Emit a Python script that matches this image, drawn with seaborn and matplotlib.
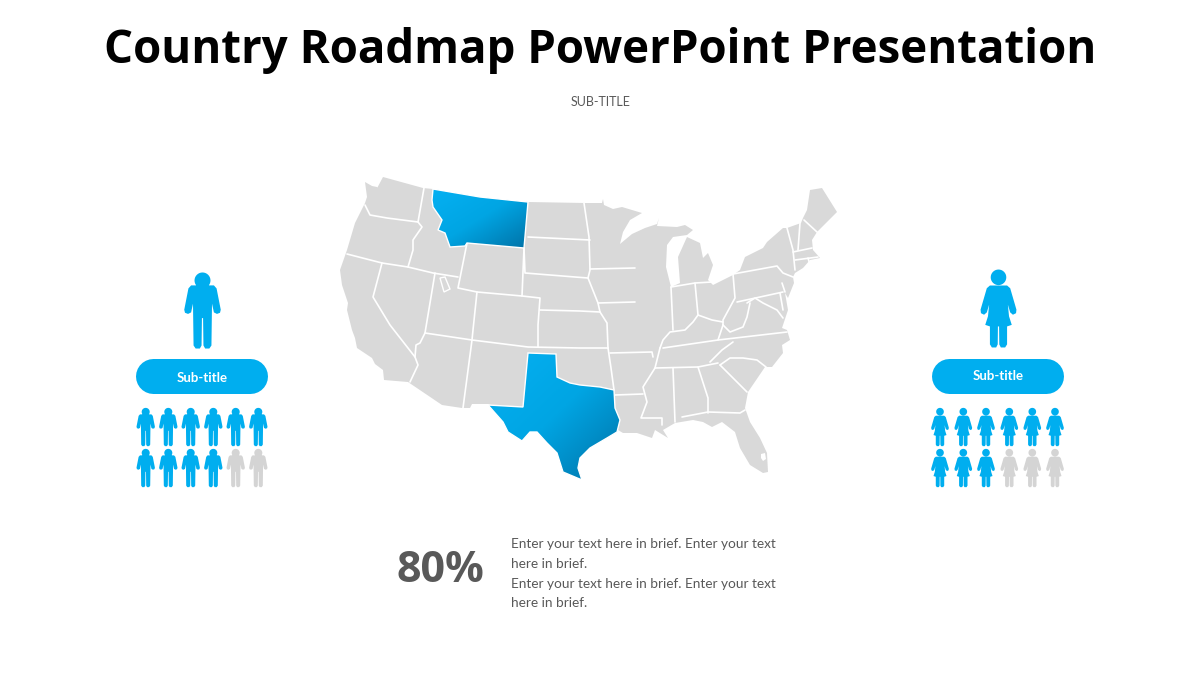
"""Country roadmap slide: US map with two pictogram panels."""

import matplotlib.pyplot as plt
import numpy as np
import pandas as pd
import seaborn as sns
from matplotlib.colors import LinearSegmentedColormap
from matplotlib.patches import Polygon
from matplotlib.path import Path

sns.set_theme(style="white")
plt.rcParams["font.family"] = ["Lato", "DejaVu Sans"]

BLUE = "#00AEEF"
GREY_ICON = "#D4D4D4"
MAP_GREY = "#D9D9D9"
TEXT_GREY = "#595959"

TITLE = "Country Roadmap PowerPoint Presentation"
SUBTITLE = "SUB-TITLE"
PILL_LABEL = "Sub-title"
BIG_NUMBER = "80%"
BODY_LINES = [
    "Enter your text here in brief. Enter your text",
    "here in brief.",
    "Enter your text here in brief. Enter your text",
    "here in brief.",
]

# pictogram counts
MEN_FILLED = [6, 4]
WOMEN_FILLED = [6, 3]

# map, in slide pixels
US_OUTLINE = [
    (365, 182), (372, 186), (377, 187), (380, 193), (376, 197), (374, 194), (383, 177),
    (423, 188), (433, 189), (480, 197), (528, 202), (585, 203), (602, 203), (603, 199),
    (604, 205), (613, 209), (622, 207), (642, 213), (630, 220), (623, 232), (620, 244),
    (632, 234), (645, 228), (657, 224), (659, 218), (657, 226), (677, 227), (685, 225),
    (693, 230), (687, 235), (673, 237), (667, 245), (666, 267), (671, 287), (680, 283),
    (678, 257), (687, 237), (700, 243), (703, 258), (708, 253), (713, 265), (708, 280),
    (713, 285), (733, 275), (740, 270), (745, 257), (763, 248), (767, 242), (783, 228),
    (787, 228), (801, 223), (803, 218), (807, 210), (810, 190), (822, 188), (837, 212),
    (817, 232), (812, 240), (813, 250), (820, 258), (810, 260), (803, 268), (795, 273),
    (793, 277), (794, 283), (788, 298), (785, 293), (788, 310), (782, 328), (787, 330),
    (790, 340), (782, 345), (783, 353), (772, 367), (765, 367), (748, 392), (745, 408),
    (750, 422), (760, 438), (767, 453), (768, 472), (763, 473), (750, 465), (740, 448),
    (735, 432), (722, 422), (712, 427), (703, 422), (693, 420), (675, 423), (663, 430),
    (668, 438), (655, 430), (652, 438), (637, 433), (623, 433), (618, 430), (600, 420),
    (530, 420), (488, 404), (472, 404), (470, 408), (462, 408), (442, 405), (408, 382),
    (384, 380), (383, 370), (375, 364), (372, 358), (363, 352), (357, 348), (355, 338),
    (352, 330), (347, 310), (348, 303), (342, 285), (340, 270), (347, 250), (355, 223),
    (365, 203), (367, 197),
]
MONTANA = [
    (433, 189), (480, 197), (528, 202), (524, 248), (467, 243), (465, 246), (450, 247),
    (445, 233), (438, 230), (442, 220), (433, 207), (432, 200),
]
TEXAS = [
    (528, 353), (556, 354), (557, 377), (570, 383), (580, 385), (590, 386), (600, 387),
    (614, 390), (615, 408), (620, 420), (617, 432), (607, 438), (590, 448), (580, 458),
    (578, 468), (582, 480), (563, 472), (557, 453), (547, 443), (537, 432), (530, 432),
    (522, 441), (508, 432), (503, 422), (488, 405), (523, 407),
]
UTAH_MARK = [(440, 278), (445, 277), (450, 289), (444, 292)]
LAKE_OKEECHOBEE = [(761, 454), (765, 453), (766, 459), (763, 461), (761, 458)]

# state borders that show as white lines
STATE_LINES = [
    [(365, 205), (370, 215), (387, 218), (418, 222)],
    [(424, 188), (418, 222), (422, 227), (413, 240), (413, 250), (408, 267)],
    [(347, 254), (382, 263), (408, 267), (433, 273), (458, 277)],
    [(467, 243), (458, 288), (477, 292), (522, 296), (524, 248)],
    [(382, 263), (373, 297), (390, 325), (415, 357), (418, 365), (410, 382)],
    [(435, 273), (425, 333), (420, 343), (416, 345), (415, 357)],
    [(425, 333), (472, 340), (528, 347), (580, 348), (608, 348)],
    [(477, 292), (473, 330), (472, 340), (463, 408)],
    [(522, 296), (540, 298), (538, 325), (538, 347)],
    [(540, 310), (580, 311), (600, 312), (607, 323), (608, 348)],
    [(524, 248), (525, 273), (575, 277), (588, 278), (598, 303), (600, 312)],
    [(528, 237), (590, 240)],
    [(584, 203), (589, 237), (590, 270), (588, 278)],
    [(590, 269), (635, 268)],
    [(598, 303), (635, 302)],
    [(671, 287), (695, 283), (712, 282)],
    [(671, 287), (673, 330)],
    [(695, 283), (698, 315), (712, 320), (723, 322)],
    [(698, 315), (693, 322), (685, 330), (670, 332), (663, 340), (660, 348)],
    [(733, 274), (777, 266), (783, 273), (793, 277)],
    [(733, 274), (735, 298), (723, 320), (723, 325)],
    [(737, 302), (783, 292)],
    [(782, 283), (785, 292)],
    [(787, 228), (793, 250), (795, 270)],
    [(800, 223), (798, 250)],
    [(804, 220), (817, 232)],
    [(793, 252), (812, 248)],
    [(795, 260), (818, 257)],
    [(808, 258), (810, 265)],
    [(747, 303), (755, 298), (763, 303), (777, 310), (783, 318)],
    [(780, 293), (783, 310)],
    [(723, 325), (730, 332), (743, 327), (747, 317), (750, 303)],
    [(723, 325), (718, 340)],
    [(663, 348), (718, 340), (787, 332)],
    [(733, 342), (722, 350), (710, 362)],
    [(655, 368), (698, 367), (718, 363)],
    [(660, 348), (655, 368), (643, 387), (647, 402), (641, 418), (662, 418), (662, 425)],
    [(610, 353), (652, 352), (653, 357)],
    [(608, 348), (611, 368), (614, 390)],
    [(615, 395), (643, 394)],
    [(673, 368), (675, 422)],
    [(698, 367), (708, 398), (708, 413)],
    [(682, 417), (708, 412), (740, 413), (745, 410)],
    [(720, 365), (747, 392)],
    [(720, 365), (730, 358), (743, 358), (757, 360), (766, 367)],
]


def mirrored_icon(head_y, head_r, half_outline):
    """Build a marker path: round head plus a body mirrored about x=0."""
    # head runs clockwise like the body so the overlap stays filled
    angles = np.linspace(2 * np.pi, 0, 33)
    head = np.column_stack([head_r * np.cos(angles), head_y + head_r * np.sin(angles)])
    right = np.array(half_outline, dtype=float)
    left = right[::-1] * [-1, 1]
    body = np.vstack([right, left, right[:1]])
    verts = np.vstack([head, body])
    codes = ([Path.MOVETO] + [Path.LINETO] * 32
             + [Path.MOVETO] + [Path.LINETO] * (len(body) - 1))
    return Path(verts, codes)


MAN = mirrored_icon(0.79, 0.21, [
    (0.0, 0.66), (0.30, 0.66), (0.37, 0.58), (0.48, 0.02), (0.46, -0.06), (0.38, -0.09),
    (0.30, -0.05), (0.25, 0.18), (0.235, -0.92), (0.18, -1.0), (0.07, -1.0),
    (0.025, -0.92), (0.015, -0.2),
])
WOMAN = mirrored_icon(0.80, 0.20, [
    (0.0, 0.59), (0.22, 0.59), (0.30, 0.52), (0.46, -0.03), (0.45, -0.12), (0.37, -0.16),
    (0.30, -0.10), (0.24, 0.10), (0.27, -0.2), (0.34, -0.42), (0.22, -0.46), (0.22, -0.92),
    (0.17, -1.0), (0.06, -1.0), (0.02, -0.92), (0.015, -0.46),
])


def draw_gradient_state(ax, outline):
    """Blue diagonal gradient clipped to one state's outline."""
    xs, ys = zip(*outline)
    grid_x, grid_y = np.meshgrid(np.linspace(0, 1, 64), np.linspace(0, 1, 64))
    cmap = LinearSegmentedColormap.from_list("state", ["#05B0F2", "#00A5E3", "#0073A8"])
    image = ax.imshow((grid_x + grid_y) / 2, cmap=cmap, vmin=0, vmax=1, aspect="auto",
                      extent=(min(xs), max(xs), max(ys), min(ys)), zorder=3)
    patch = Polygon(outline, closed=True, facecolor="none", edgecolor="white", lw=1, zorder=4)
    ax.add_patch(patch)
    image.set_clip_path(patch)


def draw_panel(ax, center_x, big_y, big_size, label_y, marker, filled, xs):
    """One person icon, its pill and the grid of small pictograms."""
    big = pd.DataFrame({"x": [center_x], "y": [big_y]})
    sns.scatterplot(data=big, x="x", y="y", marker=marker, s=big_size, color=BLUE,
                    linewidth=0, legend=False, ax=ax, zorder=3)
    # 35 px tall pill as a thick round-capped line
    ax.plot([center_x - 49.5, center_x + 47.5], [376, 376], color=BLUE,
            lw=35 * 0.72, solid_capstyle="round", zorder=2)
    ax.text(center_x, label_y, PILL_LABEL, color="white", fontsize=9.5, fontweight="bold",
            ha="center", va="center", zorder=3)

    rows = []
    for row_y, count in zip([427, 468], filled):
        for col, x in enumerate(xs):
            rows.append({"x": x, "y": row_y, "state": "on" if col < count else "off"})
    icons = pd.DataFrame(rows)
    sns.scatterplot(data=icons, x="x", y="y", hue="state", hue_order=["on", "off"],
                    palette={"on": BLUE, "off": GREY_ICON}, marker=marker, s=760,
                    linewidth=0, legend=False, ax=ax, zorder=3)


fig = plt.figure(figsize=(12, 6.75), dpi=100)
ax = fig.add_axes([0, 0, 1, 1])
ax.set_axis_off()

ax.add_patch(Polygon(US_OUTLINE, closed=True, facecolor=MAP_GREY, edgecolor="none", zorder=1))
border_df = pd.DataFrame(
    [(i, x, y) for i, line in enumerate(STATE_LINES) for x, y in line],
    columns=["line", "x", "y"],
)
sns.lineplot(data=border_df, x="x", y="y", units="line", estimator=None, sort=False,
             color="white", linewidth=1.2, legend=False, ax=ax, zorder=2)
ax.add_patch(Polygon(UTAH_MARK, closed=True, facecolor=MAP_GREY, edgecolor="white", lw=1, zorder=2))
ax.add_patch(Polygon(LAKE_OKEECHOBEE, closed=True, facecolor="white", edgecolor="none", zorder=2))
draw_gradient_state(ax, MONTANA)
draw_gradient_state(ax, TEXAS)

draw_panel(ax, 202, 310, 3000, 378, MAN, MEN_FILLED,
           [145.7, 168.3, 190.7, 213.3, 235.7, 258.3])
draw_panel(ax, 998, 308, 3150, 376, WOMAN, WOMEN_FILLED,
           [940, 963.3, 986, 1009.3, 1032.3, 1055])

ax.text(600, 50, TITLE, color="black", fontsize=32.9, fontweight="bold", family="Open Sans",
        ha="center", va="center")
ax.text(600.5, 102, SUBTITLE, color=TEXT_GREY, fontsize=9, ha="center", va="center")
ax.text(440, 570, BIG_NUMBER, color=TEXT_GREY, fontsize=31, fontweight="bold", family="Open Sans",
        ha="center", va="center")
for y, line in zip([544, 563.5, 583.5, 603], BODY_LINES):
    ax.text(511, y, line, color=TEXT_GREY, fontsize=9.8, ha="left", va="center")

ax.set_xlim(0, 1200)
ax.set_ylim(675, 0)
ax.set_xlabel("")
ax.set_ylabel("")

fig.savefig("out.png", dpi=100)
plt.close(fig)
